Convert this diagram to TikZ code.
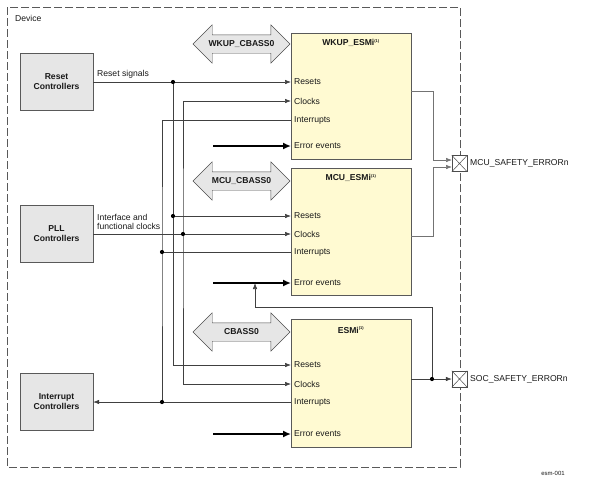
\documentclass[tikz,border=0pt]{standalone}
\usepackage{fontspec}
\setmainfont{Liberation Sans}
\usetikzlibrary{arrows.meta,shapes.arrows}
\definecolor{esmyellow}{HTML}{FFFAD2}
\definecolor{ctrlgray}{HTML}{E6E6E6}
\definecolor{linegray}{HTML}{404040}
\begin{document}
\begin{tikzpicture}[x=1pt,y=-1pt,
  every node/.style={font=\fontsize{8.6}{10}\selectfont, text=black!90},
  ctrl/.style={draw=black!65, fill=ctrlgray, minimum width=73pt, minimum height=57pt, align=center, font=\fontsize{8.6}{10}\selectfont\bfseries, inner sep=0pt},
  esm/.style={draw=black!65, fill=esmyellow, minimum width=120pt, inner sep=0pt},
  bus/.style={double arrow, draw=black!70, fill=ctrlgray, minimum width=38pt, minimum height=97pt, double arrow head extend=10pt, inner xsep=0pt, inner ysep=0pt, text height=6.5pt, text depth=2pt, minimum height=97pt, font=\fontsize{8.6}{10}\selectfont\bfseries},
  ttl/.style={font=\fontsize{8.6}{10}\selectfont\bfseries},
  port/.style={anchor=west, inner sep=0pt},
  lbl/.style={anchor=south west, inner sep=0pt, align=left},
  pin/.style={draw=black!70, fill=white, minimum width=15pt, minimum height=16pt, inner sep=0pt},
  sig/.style={draw=linegray, line width=0.6pt},
  arr/.style={sig, -{Latex[length=6pt,width=4.5pt]}},
  arrboth/.style={sig, {Latex[length=6pt,width=4.5pt]}-{Latex[length=6pt,width=4.5pt]}},
  errarr/.style={draw=black, line width=1.6pt, -{Latex[length=8pt,width=7pt]}},
  devbox/.style={draw=black!65, line width=0.9pt, dash pattern=on 8pt off 3pt},
  dot/.style={circle, fill=black, inner sep=0pt, minimum size=4.2pt}
]
\useasboundingbox (0,0) rectangle (597,480);

% device boundary
\draw[devbox] (7,7) rectangle (460,467);
\node[anchor=west, inner sep=0pt] (dev) at (15,18) {Device};

% controllers
\node[ctrl] (rst) at (56.5,82) {Reset\\Controllers};
\node[ctrl] (pll) at (56.5,234) {PLL\\Controllers};
\node[ctrl] (intc) at (56.5,402) {Interrupt\\Controllers};

% ESM blocks
\node[esm, minimum height=126pt] (wkup) at (351,96) {};
\node[esm, minimum height=127pt] (mcu) at (351,231.5) {};
\node[esm, minimum height=128pt] (soc) at (351,383) {};

\node[ttl] (wt) at (351,43) {WKUP\_ESMi\textsuperscript{\fontsize{4}{4}\selectfont(1)}};
\node[ttl] (mt) at (351,178) {MCU\_ESMi\textsuperscript{\fontsize{4}{4}\selectfont(1)}};
\node[ttl] (st) at (351,330) {ESMi\textsuperscript{\fontsize{4}{4}\selectfont(1)}};

% buses
\node[bus, inner ysep=4.75pt] (b1) at (241.5,44) {WKUP\_CBASS0};
\node[bus, inner ysep=4.75pt] (b2) at (241.5,181) {MCU\_CBASS0};
\node[bus, inner ysep=4.75pt] (b3) at (241.5,332) {CBASS0};

% ports
\coordinate (wR) at (291,82);  \coordinate (wC) at (291,101);
\coordinate (wI) at (291,120); \coordinate (wE) at (291,146);
\coordinate (mR) at (291,216); \coordinate (mC) at (291,234);
\coordinate (mI) at (291,252); \coordinate (mE) at (291,283);
\coordinate (sR) at (291,365); \coordinate (sC) at (291,384);
\coordinate (sI) at (291,402); \coordinate (sE) at (291,434);

\foreach \b/\r/\c/\i/\e in {w/82/101/120/146, m/216/234/252/283, s/365/384/402/434}{
  \node[port] (\b pr) at (294,\r) {Resets};
  \node[port] (\b pc) at (294,\c) {Clocks};
  \node[port] (\b pi) at (294,\i) {Interrupts};
  \node[port] (\b pe) at (294,\e) {Error events};
}

% error event inputs
\coordinate (wEs) at (213,146);
\coordinate (mEs) at (213,283);
\coordinate (sEs) at (213,434);
\draw[errarr] (wEs) -- (wE);
\draw[errarr] (mEs) -- (mE);
\draw[errarr] (sEs) -- (sE);

% resets
\coordinate (vR) at (173,82);
\draw[arr] (rst.east |- wR) -- (wR);
\draw[arr] (vR) |- (sR);
\draw[arr] (vR |- mR) -- (mR);
\node[dot] (dR1) at (vR) {};
\node[dot] (dR2) at (vR |- mR) {};
\node[lbl] (rsl) at (97,78) {Reset signals};

% clocks
\coordinate (vC) at (183,234);
\draw[arr] (pll.east |- mC) -- (mC);
\draw[arrboth] (wC) -| (vC) |- (sC);
\node[dot] (dC) at (vC) {};
\node[lbl] (ifl) at (97,230) {Interface and\\[-1.2pt]functional clocks};

% interrupts
\coordinate (vI) at (162,252);
\draw[arr] (wI) -| (vI) |- (intc.east |- sI);
\draw[sig] (mI) -- (vI);
\draw[sig] (sI) -- (sI -| vI);
\node[dot] (dI1) at (vI) {};
\node[dot] (dI2) at (sI -| vI) {};

% safety error pins
\node[pin] (mpin) at (459.5,163.5) {};
\draw[black!70, line width=0.5pt] (mpin.north west) -- (mpin.south east) (mpin.north east) -- (mpin.south west);
\node[anchor=west, inner sep=0pt] (mpl) at (470,163.5) {MCU\_SAFETY\_ERRORn};
\node[pin] (spin) at (459.5,379) {};
\draw[black!70, line width=0.5pt] (spin.north west) -- (spin.south east) (spin.north east) -- (spin.south west);
\node[anchor=west, inner sep=0pt] (spl) at (470,379) {SOC\_SAFETY\_ERRORn};

\coordinate (kx) at (433,0);
\coordinate (wO) at (411,91);
\coordinate (mO) at (411,236);
\coordinate (sO) at (411,379);
\coordinate (mpA) at (452,160);
\coordinate (mpB) at (452,167);
\draw[arr, draw=black!55] (wO) -- (wO -| kx) |- (mpA);
\draw[arr, draw=black!55] (mO) -- (mO -| kx) |- (mpB);

% soc error output and feedback
\coordinate (jS) at (432,379);
\coordinate (fb) at (255,307);
\draw[arr] (sO) -- (spin.west);
\draw[arr] (jS) |- (fb) -- (fb |- mE);
\node[dot] (dS) at (jS) {};

\node[inner sep=0pt, font=\fontsize{6}{6}\selectfont] (tag) at (553,473) {esm-001};
\end{tikzpicture}
\end{document}
